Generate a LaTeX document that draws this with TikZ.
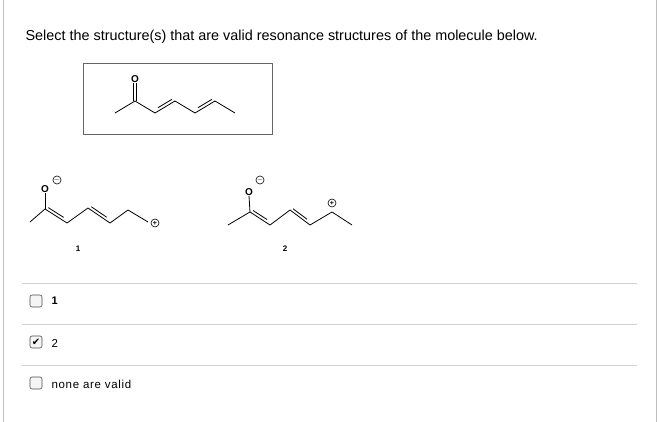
\documentclass[tikz,border=0pt]{standalone}
\usepackage{fontspec}
\setmainfont{Liberation Sans}
\newfontfamily\djv{DejaVu Sans}
\newfontfamily\wide[LetterSpace=6]{Liberation Sans}
\usetikzlibrary{calc}
\begin{document}
\begin{tikzpicture}[x=1pt,y=-1pt,
  bond/.style={line width=0.8pt,line join=round},
  atom/.style={inner sep=0pt,font=\fontsize{10}{10}\selectfont\bfseries},
  chg/.style={circle,draw,line width=0.6pt,inner sep=0pt,minimum size=8pt,font=\fontsize{7}{7}\selectfont\bfseries},
  sep/.style={draw=gray!35,line width=0.6pt},
  cb/.style={draw=gray!60!black,line width=0.6pt,rounded corners=2pt,minimum size=12pt,inner sep=0pt,fill=gray!8}]
\useasboundingbox (0,0) rectangle (659,422);
\draw[gray!50] (3,0) -- (3,422) (656,0) -- (656,422);
\node[anchor=west,font=\fontsize{14.4}{14.4}\selectfont] (title) at (22,37) {Select the structure(s) that are valid resonance structures of the molecule below.};
% box
\node[draw=gray!80!black,line width=0.8pt,minimum width=189pt,minimum height=71pt] (box) at (177.5,98.5) {};
% main molecule
\coordinate (a1) at (115,113); \coordinate (a2) at (135,101); \coordinate (a3) at (155,113);
\coordinate (a4) at (175,101); \coordinate (a5) at (195,113); \coordinate (a6) at (215,101); \coordinate (a7) at (235,113);
\node[atom] (ao) at (135,79) {O};
\draw[bond] (a1)--(a2)--(a3)--(a4)--(a5)--(a6)--(a7);
\draw[bond] ([xshift=-1.5pt]a2) -- ([xshift=-1.5pt]ao.south) ([xshift=1.5pt]a2) -- ([xshift=1.5pt]ao.south);
\draw[bond] ($(a3)!0.15!(a4)+(0,-3.5)$) -- ($(a3)!0.85!(a4)+(0,-3.5)$);
\draw[bond] ($(a5)!0.15!(a6)+(0,-3.5)$) -- ($(a5)!0.85!(a6)+(0,-3.5)$);
% structure 1
\coordinate (b1) at (30,222); \coordinate (b2) at (45,209); \coordinate (b3) at (67,223);
\coordinate (b4) at (88,208); \coordinate (b5) at (110,223); \coordinate (b6) at (128,210); \coordinate (b7) at (148,222);
\node[atom] (bo) at (45,189) {O};
\node[chg] (bm) at (57,180) {$-$};
\node[chg] (bp) at (155,223) {+};
\draw[bond] (b1)--(b2)--(b3)--(b4)--(b5)--(b6)--(b7);
\draw[bond] (b2)--(bo.south);
\draw[bond] ($(b2)!0.15!(b3)+(0,-3.5)$) -- ($(b2)!0.85!(b3)+(0,-3.5)$);
\draw[bond] ($(b4)!0.15!(b5)+(0,-3.5)$) -- ($(b4)!0.85!(b5)+(0,-3.5)$);
\node[atom,font=\fontsize{8}{8}\selectfont\bfseries] (l1) at (78,249) {1};
% structure 2
\coordinate (c1) at (228,225); \coordinate (c2) at (250,212); \coordinate (c3) at (270,225);
\coordinate (c4) at (290,210); \coordinate (c5) at (310,225); \coordinate (c6) at (332,212); \coordinate (c7) at (352,225);
\node[atom] (co) at (249,192) {O};
\node[chg] (cm) at (260,180) {$-$};
\node[chg] (cp) at (332,203) {+};
\draw[bond] (c1)--(c2)--(c3)--(c4)--(c5)--(c6)--(c7);
\draw[bond] (c2)--(co.south);
\draw[bond] ($(c2)!0.15!(c3)+(0,-3.5)$) -- ($(c2)!0.85!(c3)+(0,-3.5)$);
\draw[bond] ($(c4)!0.15!(c5)+(0,-3.5)$) -- ($(c4)!0.85!(c5)+(0,-3.5)$);
\node[atom,font=\fontsize{8}{8}\selectfont\bfseries] (l2) at (285,249) {2};
% options
\draw[sep] (22,283) -- (637,283) (22,324) -- (637,324) (22,365) -- (637,365);
\node[cb] (k1) at (36,301) {};
\node[cb] (k2) at (36,342) {\djv\fontsize{10}{10}\selectfont ✔};
\node[cb] (k3) at (36,383) {};
\node[anchor=west,font=\fontsize{11}{11}\selectfont\bfseries] (o1) at (48,301) {1};
\node[anchor=west,font=\wide\fontsize{11.5}{11.5}\selectfont] (o2) at (48,343) {2};
\node[anchor=west,font=\wide\fontsize{11.5}{11.5}\selectfont] (o3) at (48,384) {none are valid};
\end{tikzpicture}
\end{document}
